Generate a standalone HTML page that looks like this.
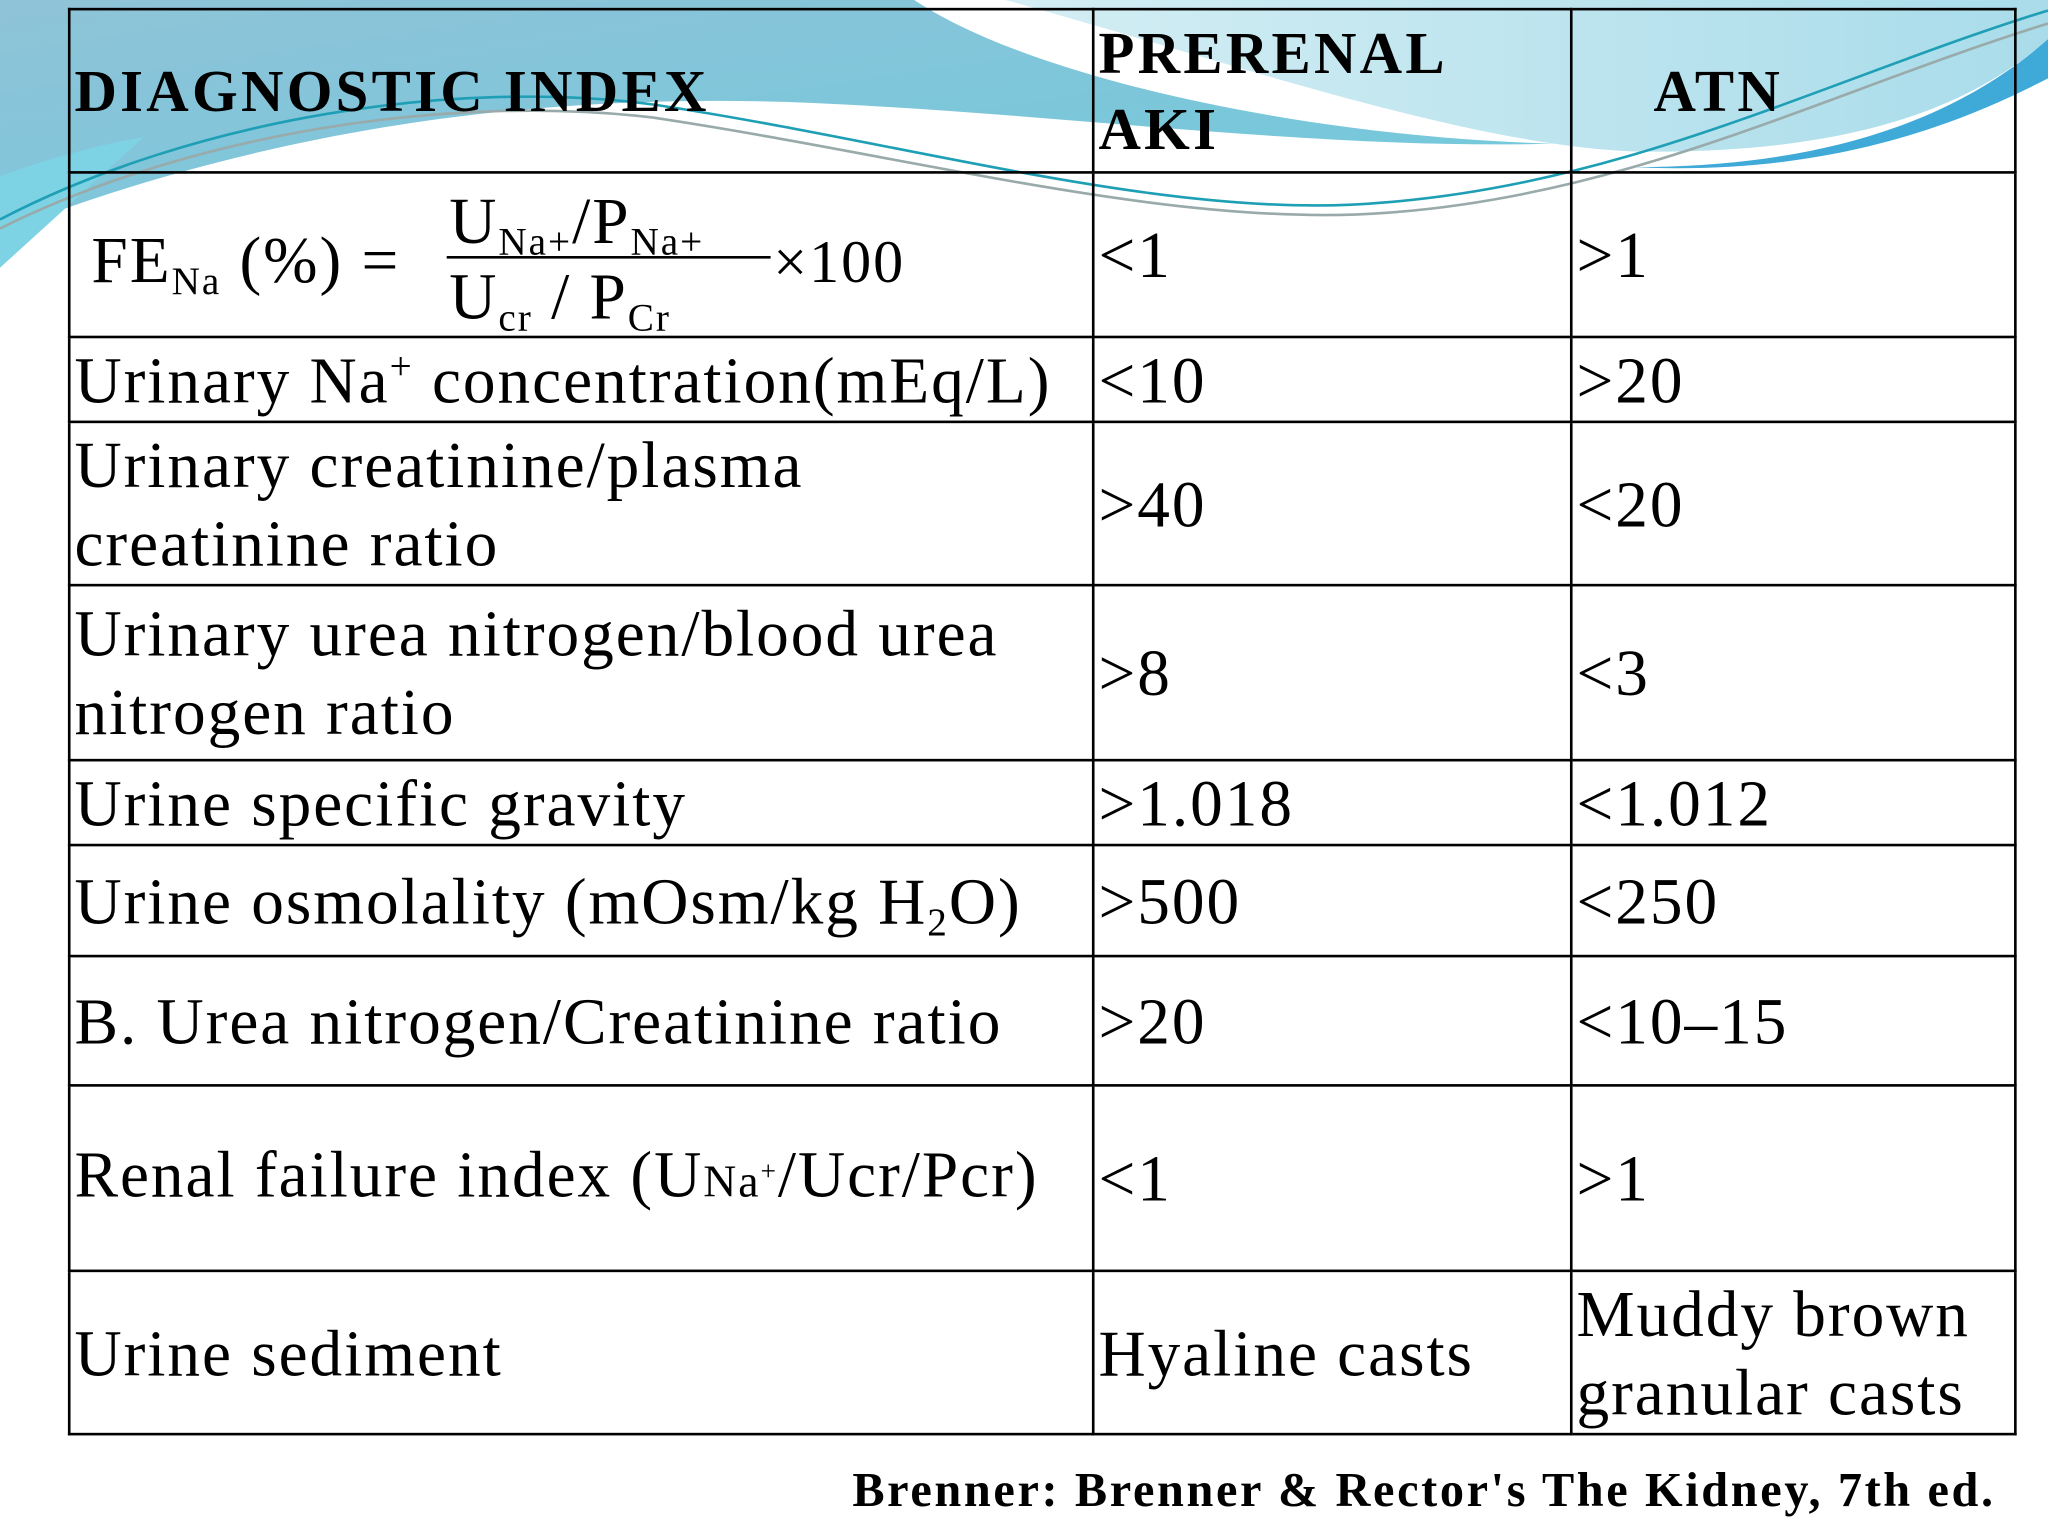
<!DOCTYPE html>
<html><head><meta charset="utf-8">
<style>
html,body{margin:0;padding:0;width:2048px;height:1536px;overflow:hidden;background:#fff}
#stage{position:absolute;left:0;top:0;width:1568px;height:1176px;transform:scale(1.306122);transform-origin:0 0;font-family:"Liberation Serif",serif;color:#000}
#bg{position:absolute;left:0;top:0}
table{position:absolute;left:52px;top:6px;border-collapse:collapse;table-layout:fixed}
td{border:2px solid #000;padding:0 0 0 3px;vertical-align:middle;font-size:50px;line-height:60px;white-space:nowrap;overflow:visible;letter-spacing:1.5px}
td.h{font-weight:bold;font-size:45px;line-height:58px;letter-spacing:2.5px}
.sub{font-size:0.6em;vertical-align:-0.3em;line-height:0}
.sm{font-size:0.7em}
#footer{position:absolute;right:40px;top:1120px;font-size:37px;font-weight:bold;white-space:nowrap;letter-spacing:2px}
.abs{position:absolute;white-space:nowrap}
</style></head>
<body>
<div id="stage">
<svg id="bg" width="1568" height="1176">
<defs>
<linearGradient id="g1" x1="0" y1="0" x2="1" y2="1"><stop offset="0" stop-color="#8fc3d8"/><stop offset="1" stop-color="#6fc9dc"/></linearGradient>
<linearGradient id="g2" x1="0" y1="0" x2="1" y2="0"><stop offset="0" stop-color="#d4eef4"/><stop offset="1" stop-color="#a9dcea"/></linearGradient>
</defs>
<path d="M0,0 L700,0 C790,60 1000,105 1190,110 C1000,115 800,85 600,78 C400,72 200,100 0,178 Z" fill="url(#g1)"/>
<path d="M0,135 C40,120 80,110 110,105 L0,205 Z" fill="#7dd3e4"/>
<path d="M770,0 L1568,0 L1568,30 C1500,90 1400,118 1250,116 C1120,110 950,50 770,0 Z" fill="url(#g2)"/>
<path d="M1568,30 C1500,90 1400,128 1250,128 C1400,135 1500,95 1568,60 Z" fill="#3fa9d8"/>
<path d="M0,168 C150,90 350,60 500,80 C700,110 900,170 1060,155 C1250,140 1400,60 1568,8" fill="none" stroke="#1f9fb5" stroke-width="2"/>
<path d="M0,175 C150,100 350,72 500,90 C700,120 900,175 1060,163 C1250,150 1400,70 1568,18" fill="none" stroke="#9aa" stroke-width="2"/>
</svg>
<table>
<colgroup><col style="width:784px"><col style="width:366px"><col style="width:340px"></colgroup>
<tr style="height:125px"><td class="h">DIAGNOSTIC INDEX</td><td class="h">PRERENAL<br>AKI</td><td class="h" style="padding-left:62px">ATN</td></tr>
<tr style="height:126px"><td style="position:relative">
<div class="abs" style="left:16px;top:36px;font-size:50px">FE<span class="sub">Na</span> (%) =</div>
<div class="abs" style="left:290px;top:6px;font-size:50px">U<span class="sub">Na+</span>/P<span class="sub">Na+</span></div>
<div class="abs" style="left:288px;top:63px;width:248px;border-top:2px solid #000"></div>
<div class="abs" style="left:290px;top:64px;font-size:50px">U<span class="sub">cr</span> / P<span class="sub">Cr</span></div>
<div class="abs" style="left:538px;top:38px;font-size:46px">×100</div>
</td><td>&lt;1</td><td>&gt;1</td></tr>
<tr style="height:65px"><td>Urinary Na<span style="font-size:0.6em;vertical-align:0.6em;line-height:0">+</span> concentration(mEq/L)</td><td>&lt;10</td><td>&gt;20</td></tr>
<tr style="height:125px"><td>Urinary creatinine/plasma<br>creatinine ratio</td><td>&gt;40</td><td>&lt;20</td></tr>
<tr style="height:134px"><td>Urinary urea nitrogen/blood urea<br>nitrogen ratio</td><td>&gt;8</td><td>&lt;3</td></tr>
<tr style="height:65px"><td>Urine specific gravity</td><td>&gt;1.018</td><td>&lt;1.012</td></tr>
<tr style="height:85px"><td>Urine osmolality (mOsm/kg H<span class="sub">2</span>O)</td><td>&gt;500</td><td>&lt;250</td></tr>
<tr style="height:99px"><td>B. Urea nitrogen/Creatinine ratio</td><td>&gt;20</td><td>&lt;10–15</td></tr>
<tr style="height:142px"><td>Renal failure index (U<span class="sm">Na<span style="font-size:0.6em;vertical-align:0.6em;line-height:0">+</span></span>/Ucr/Pcr)</td><td>&lt;1</td><td>&gt;1</td></tr>
<tr style="height:125px"><td>Urine sediment</td><td>Hyaline casts</td><td>Muddy brown<br>granular casts</td></tr>
</table>
<div id="footer">Brenner: Brenner &amp; Rector's The Kidney, 7th ed.</div>
</div>
</body></html>
